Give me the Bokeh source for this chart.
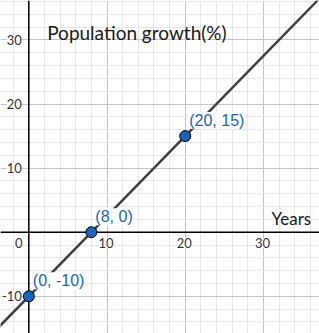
from bokeh.plotting import figure
from bokeh.models import Grid, SingleIntervalTicker, Span, Slope, Label, ColumnDataSource
from bokeh.core.properties import value
from bokeh.embed import file_html
from bokeh.resources import INLINE

# ---- data ----
point_x = [0, 8, 20]
point_y = [-10, 0, 15]
point_labels = ["(0, -10)", "(8, 0)", "(20, 15)"]

x_tick_values = [10, 20, 30]
x_tick_labels = ["10", "20", "30"]
y_tick_values = [-10, 10, 20, 30]
y_tick_labels = ["-10", "10", "20", "30"]
origin_label = "0"

title_text = "Population growth(%)"
x_axis_title = "Years"

BLUE = "#1565c0"

p = figure(width=319, height=333, x_range=(-3.62, 37.17), y_range=(-15.8, 36.15),
           output_backend="svg", toolbar_location=None,
           x_axis_location=None, y_axis_location=None, min_border=0)
p.outline_line_color = None
p.background_fill_color = "white"
p.border_fill_color = "white"

for dim in (0, 1):
    g = Grid(dimension=dim, ticker=SingleIntervalTicker(interval=10, num_minor_ticks=5),
             grid_line_color="#c4c4c4", grid_line_width=1,
             minor_grid_line_color="#e6e6e6", minor_grid_line_width=1, level="underlay")
    p.add_layout(g)

p.add_layout(Span(location=0, dimension="width", line_color="black", line_width=1.5, level="underlay"))
p.add_layout(Span(location=0, dimension="height", line_color="black", line_width=1.5, level="underlay"))

# line through the points
grad = (point_y[2] - point_y[0]) / (point_x[2] - point_x[0])
icpt = point_y[0] - grad * point_x[0]
p.add_layout(Slope(gradient=grad, y_intercept=icpt, line_color="#404040", line_width=2.5,
                   level="underlay"))

# tick labels
xt = ColumnDataSource(dict(x=x_tick_values, y=[0] * len(x_tick_values), t=x_tick_labels))
p.text(x="x", y="y", text="t", source=xt, text_font=value("Lato"), text_font_size="13px",
       text_color="#333333", text_align="center", text_baseline="middle",
       x_offset=-1, y_offset=11, background_fill_color="white")
yt = ColumnDataSource(dict(x=[0] * len(y_tick_values), y=y_tick_values, t=y_tick_labels))
p.text(x="x", y="y", text="t", source=yt, text_font=value("Lato"), text_font_size="13px",
       text_color="#333333", text_align="right", text_baseline="middle",
       x_offset=-7, y_offset=0, background_fill_color="white")
p.text(x=[0], y=[0], text=[origin_label], text_font=value("Lato"), text_font_size="13px",
       text_color="#333333", text_align="center", text_baseline="middle",
       x_offset=-10, y_offset=11)

src = ColumnDataSource(dict(x=point_x, y=point_y, t=point_labels))
p.scatter(x="x", y="y", source=src, size=11, fill_color=BLUE, line_color="black", line_width=1)
p.text(x="x", y="y", text="t", source=src, text_font=value("Liberation Sans"),
       text_font_size="16px", text_color=BLUE, text_align="left", text_baseline="middle",
       x_offset=4, y_offset=-15.5, background_fill_color="white")

p.add_layout(Label(x=46.7, y=333 - 32.3, x_units="screen", y_units="screen", text=title_text,
                   text_font="Lato", text_font_size="19px", text_color="#1a1a1a",
                   text_baseline="alphabetic"))
p.add_layout(Label(x=271, y=333 - 217.7, x_units="screen", y_units="screen", text=x_axis_title,
                   text_font="Lato", text_font_size="17px", text_color="#1a1a1a",
                   text_baseline="alphabetic"))

open("out.html", "w").write(file_html(p, INLINE))
